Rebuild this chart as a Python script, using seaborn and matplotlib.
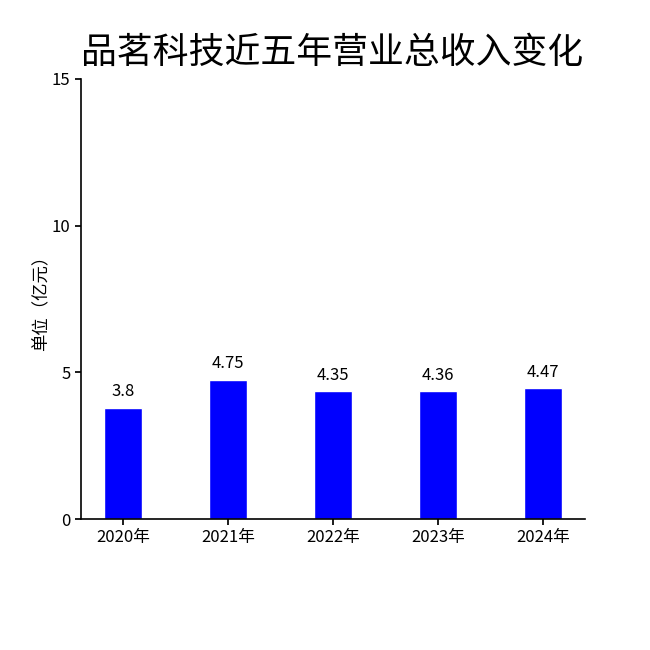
import matplotlib
matplotlib.use('Agg')
import matplotlib.pyplot as plt
import pandas as pd
import seaborn as sns

years = ['2020年', '2021年', '2022年', '2023年', '2024年']
revenue = [3.8, 4.75, 4.35, 4.36, 4.47]
labels = ['3.8', '4.75', '4.35', '4.36', '4.47']

df = pd.DataFrame({'year': years, 'revenue': revenue})

sns.set_theme(style='ticks')
plt.rcParams['font.family'] = ['Noto Sans CJK SC', 'DejaVu Sans']
plt.rcParams['text.color'] = 'black'

fig = plt.figure(figsize=(6.5, 6.5), dpi=100)
ax = fig.add_axes([0.1246, 0.2015, 0.7754, 0.677])

sns.barplot(data=df, x='year', y='revenue', color='#0000ff', saturation=1,
            width=0.37, ax=ax)

# value labels above bars
for i, v in enumerate(revenue):
    ax.text(i, v + 0.25, labels[i], ha='center', va='bottom', fontsize=12, color='black')

ax.set_ylim(0, 15)
ax.set_xlim(-0.4, 4.4)
ax.set_yticks([0, 5, 10, 15])
ax.set_xlabel('')
ax.set_ylabel('单位（亿元）', fontsize=12.5, color='black', labelpad=1)
ax.tick_params(axis='both', labelsize=12, colors='black', length=4)
sns.despine(ax=ax)
for s in ['left', 'bottom']:
    ax.spines[s].set_color('black')
    ax.spines[s].set_linewidth(1.2)

fig.text(0.511, 0.918, '品茗科技近五年营业总收入变化', ha='center', va='center',
         fontsize=25.8, color='black')

fig.savefig('out.png', dpi=100)
